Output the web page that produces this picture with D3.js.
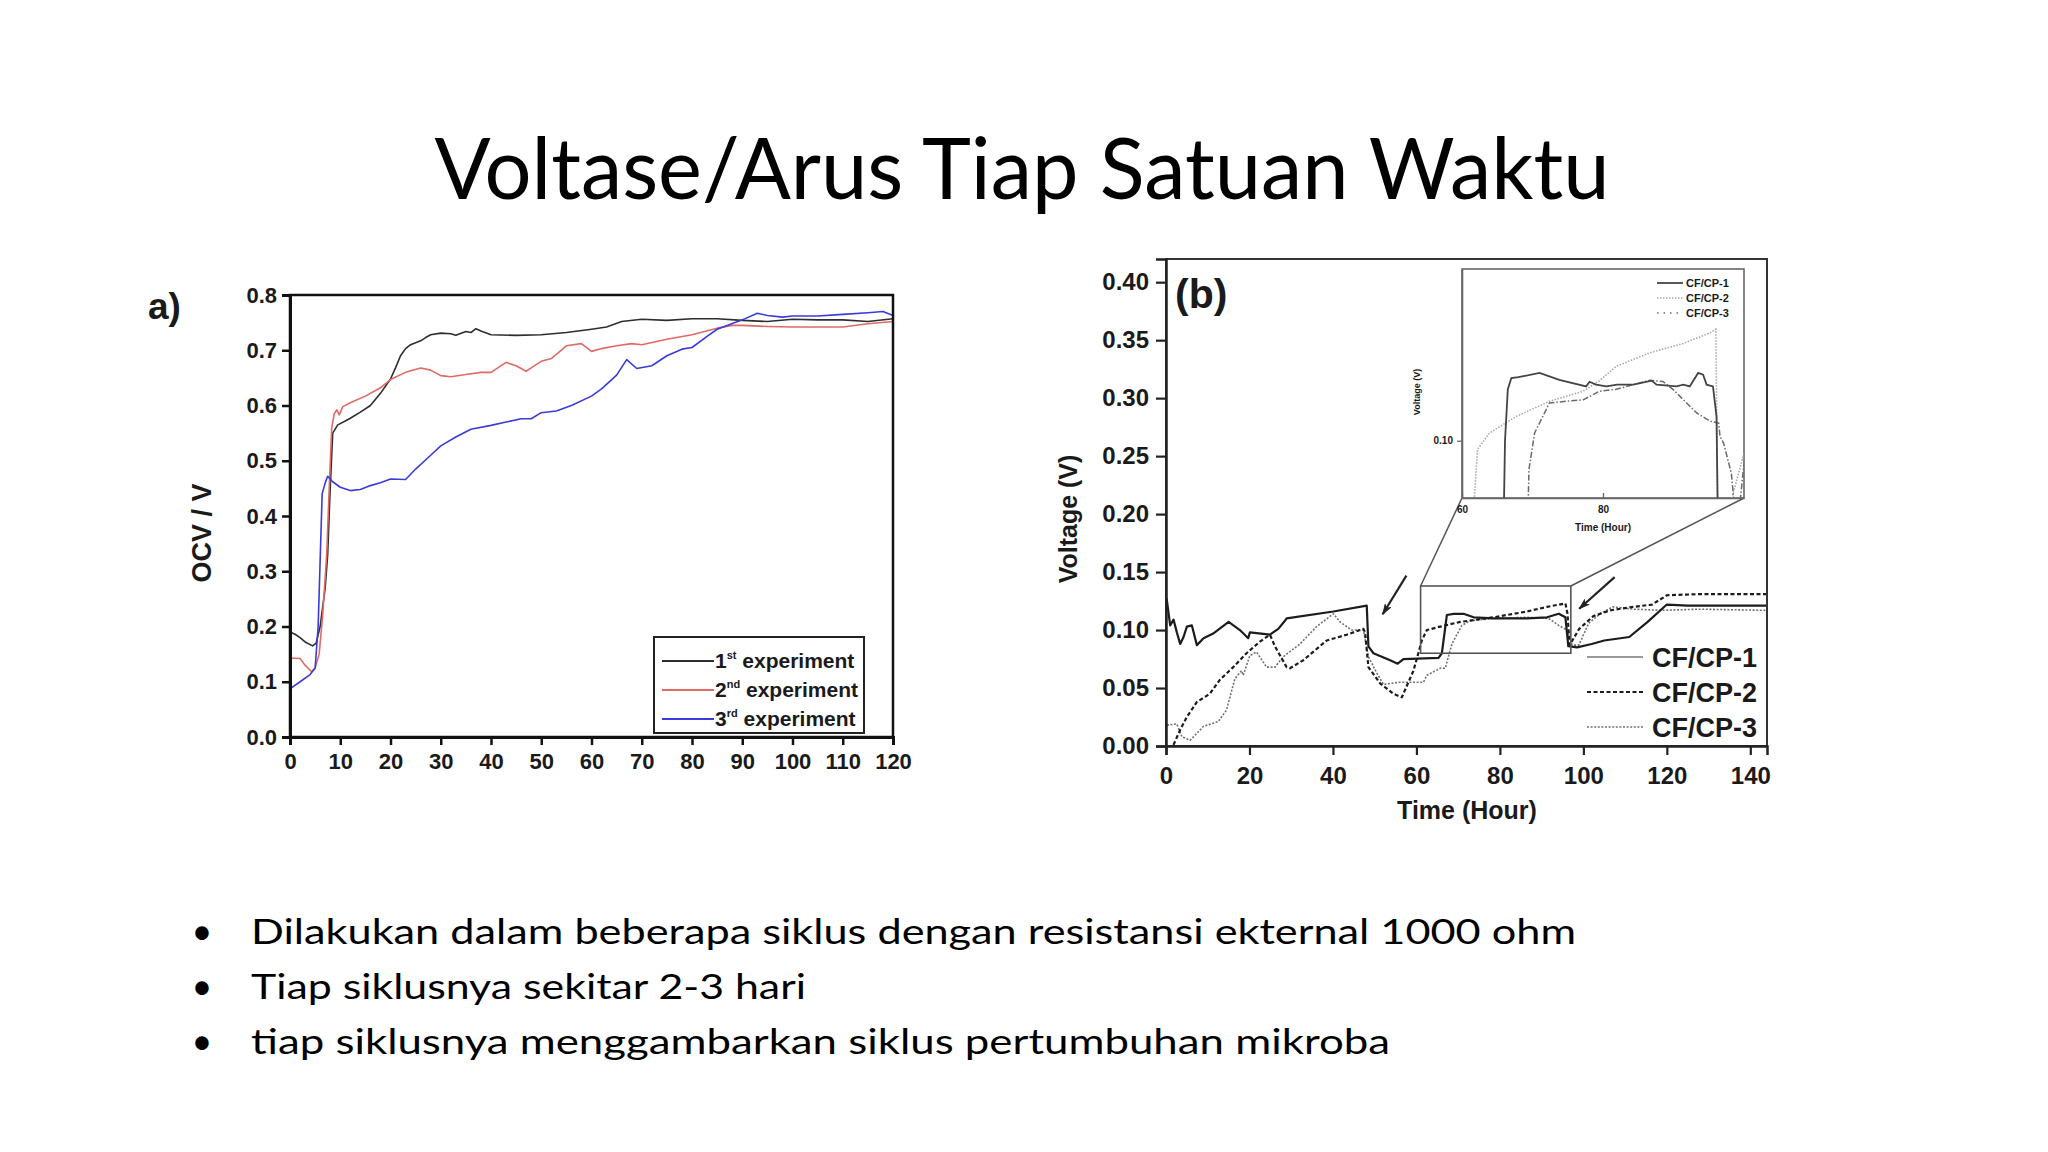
<!DOCTYPE html>
<html>
<head>
<meta charset="utf-8">
<script src="https://cdn.jsdelivr.net/npm/d3@7"></script>
<style>
  html, body { margin: 0; padding: 0; background: #ffffff; }
  svg { display: block; }
  .fig text { font-family: "Liberation Sans", Arial, sans-serif; font-weight: bold; fill: #1a1a1a; }
</style>
</head>
<body>
<svg id="chart" width="2048" height="1152"></svg>
<script>
// ---------------- DATA ----------------
const titleText = "Voltase/Arus Tiap Satuan Waktu";
const bullets = [
  "Dilakukan dalam beberapa siklus dengan resistansi ekternal 1000 ohm",
  "Tiap siklusnya sekitar 2-3 hari",
  "tiap siklusnya menggambarkan siklus pertumbuhan mikroba"
];

// Panel a) : time (h) vs OCV (V)
const xTicksA = [0,10,20,30,40,50,60,70,80,90,100,110,120];
const yTicksA = [0.0,0.1,0.2,0.3,0.4,0.5,0.6,0.7,0.8];
const legendA = [["1","st"," experiment"],["2","nd"," experiment"],["3","rd"," experiment"]];
const exp1 = [[0,0.19],[1,0.186],[2,0.18],[3,0.172],[4.5,0.165],[5.2,0.17],[6,0.2],[7,0.27],[7.5,0.33],[8,0.45],[8.5,0.55],[9.5,0.565],[11,0.572],[12,0.577],[14,0.588],[16,0.6],[18,0.622],[20,0.648],[21,0.668],[22,0.69],[23,0.703],[24,0.71],[26,0.717],[27,0.723],[28,0.728],[30,0.731],[32,0.73],[33,0.727],[35,0.734],[36,0.732],[37,0.739],[38,0.735],[40,0.728],[45,0.727],[50,0.728],[55,0.732],[60,0.738],[63,0.742],[66,0.752],[70,0.756],[75,0.754],[80,0.757],[85,0.757],[90,0.754],[95,0.752],[100,0.756],[105,0.755],[110,0.755],[115,0.752],[120,0.757]];
const exp2 = [[0,0.143],[2,0.142],[3,0.13],[4.3,0.118],[5,0.125],[5.8,0.15],[6.5,0.22],[7.3,0.33],[7.8,0.45],[8.3,0.56],[8.8,0.585],[9.3,0.592],[9.8,0.583],[10.5,0.598],[12,0.605],[15,0.617],[18,0.632],[20,0.647],[23,0.66],[26,0.668],[28,0.664],[30,0.654],[32,0.652],[35,0.656],[38,0.66],[40,0.66],[43,0.678],[45,0.672],[47,0.662],[48,0.668],[50,0.68],[52,0.685],[55,0.708],[58,0.712],[60,0.698],[62,0.703],[65,0.708],[68,0.712],[70,0.71],[75,0.72],[80,0.728],[85,0.74],[88,0.745],[90,0.745],[95,0.743],[100,0.742],[105,0.742],[110,0.742],[115,0.748],[120,0.752]];
const exp3 = [[0,0.087],[2,0.1],[4,0.113],[5,0.125],[5.6,0.2],[6,0.32],[6.4,0.44],[7,0.46],[7.5,0.472],[8.5,0.462],[10,0.452],[12,0.446],[14,0.448],[16,0.455],[18,0.46],[20,0.467],[23,0.466],[25,0.485],[28,0.51],[30,0.527],[33,0.543],[36,0.557],[40,0.564],[43,0.57],[46,0.576],[48,0.576],[50,0.587],[53,0.59],[56,0.6],[60,0.617],[62,0.63],[65,0.655],[67,0.683],[69,0.667],[72,0.672],[75,0.69],[78,0.702],[80,0.705],[83,0.725],[85,0.738],[87,0.745],[90,0.755],[93,0.767],[95,0.763],[98,0.76],[100,0.762],[105,0.762],[110,0.765],[115,0.768],[118,0.77],[120,0.763]];

// Panel (b) : time (hour) vs voltage (V)
const xTicksB = [0,20,40,60,80,100,120,140];
const yTicksB = [0.00,0.05,0.10,0.15,0.20,0.25,0.30,0.35,0.40];
const legendB = ["CF/CP-1","CF/CP-2","CF/CP-3"];
const cfcp1 = [[0,0.128],[0.2,0.126],[1,0.104],[1.8,0.109],[2.6,0.098],[3.4,0.088],[4.2,0.094],[5,0.103],[6.2,0.104],[7.4,0.087],[9,0.093],[11.3,0.097],[15,0.107],[17.7,0.1],[19.7,0.093],[20.1,0.098],[24.9,0.096],[26.9,0.101],[28.5,0.108],[28.9,0.11],[40.1,0.116],[48.1,0.121],[48.5,0.086],[49.7,0.08],[53.7,0.074],[55.5,0.071],[56.9,0.075],[65.3,0.076],[66.1,0.08],[67.3,0.113],[68.9,0.114],[71.3,0.114],[73.7,0.111],[78.5,0.11],[86.5,0.11],[91.3,0.111],[94.1,0.114],[95.7,0.111],[96.4,0.086],[98.5,0.085],[102,0.088],[105,0.091],[111,0.094],[115.4,0.107],[120,0.122],[125,0.121],[135,0.121],[144,0.121]];
const cfcp2 = [[1.8,0.001],[3.4,0.014],[5,0.025],[7.4,0.038],[10.5,0.045],[12.9,0.057],[16.1,0.068],[19.3,0.08],[22.5,0.09],[24.9,0.096],[26.1,0.086],[28.9,0.068],[29.7,0.067],[32.9,0.074],[38.5,0.091],[43.3,0.096],[47.3,0.101],[47.7,0.098],[48.5,0.068],[51.3,0.054],[54.5,0.045],[56.5,0.042],[59.3,0.065],[61.3,0.091],[62.5,0.1],[65.7,0.103],[70.5,0.107],[78.5,0.111],[86.5,0.116],[91.3,0.12],[95.7,0.123],[96.2,0.114],[96.7,0.087],[99,0.101],[102.4,0.112],[106.4,0.117],[112,0.12],[116.5,0.122],[120,0.13],[128,0.131],[144,0.131]];
const cfcp3 = [[0.2,0.018],[2.6,0.019],[3.8,0.008],[5.8,0.005],[9,0.017],[12.5,0.021],[14.5,0.031],[16.5,0.058],[18.1,0.065],[18.5,0.061],[20.1,0.078],[21.7,0.081],[24.1,0.068],[26.1,0.068],[28.1,0.077],[32.1,0.088],[36.1,0.103],[40.1,0.114],[41.7,0.107],[44.5,0.1],[47.3,0.1],[48.5,0.077],[50.5,0.063],[52.1,0.053],[53.7,0.054],[56.1,0.055],[61.7,0.055],[62.5,0.061],[65.7,0.067],[66.9,0.067],[68.5,0.088],[70.9,0.104],[72.9,0.108],[78.5,0.11],[86.5,0.111],[91.7,0.11],[94.1,0.104],[96.1,0.1],[97.3,0.087],[98.9,0.087],[101.3,0.106],[104,0.114],[107,0.12],[112,0.118],[118.8,0.117],[127.8,0.118],[144,0.117]];

// Zoom window in panel (b) and annotation arrows (data units)
const zoomBox = [[61,0.08],[97,0.138]];
const arrows = [[[57.6,0.147],[51.9,0.1136]],[[107.5,0.1456],[99,0.1184]]];

// Inset
const xTicksI = [60,80];
const yTicksI = [0.10];
const inset1 = [[65.9,0.07],[66.1,0.1],[66.5,0.118],[67,0.1219],[68,0.1222],[71,0.1237],[73.8,0.1213],[77.6,0.119],[78.1,0.1206],[79,0.1196],[80.5,0.119],[82,0.1196],[84.3,0.1196],[86.9,0.121],[87.6,0.1196],[90.4,0.119],[91.4,0.1196],[92.3,0.119],[93.5,0.1237],[94.2,0.1231],[94.7,0.1196],[95.6,0.119],[96.1,0.1085],[96.3,0.07]];
const inset2 = [[61.5,0.07],[62.2,0.097],[63.9,0.1027],[67.7,0.1085],[72.4,0.1138],[77.2,0.1173],[79.5,0.121],[81.9,0.126],[86.6,0.1307],[91.4,0.134],[95.2,0.1377],[96,0.139],[96.3,0.07],[97.2,0.07],[100,0.0957]];
const inset3 = [[69.3,0.07],[69.5,0.09],[70.3,0.1027],[72.4,0.1132],[74.8,0.1138],[77.2,0.1143],[79.5,0.1173],[81.9,0.118],[84.3,0.1196],[86.6,0.1211],[88.5,0.1207],[90,0.1178],[91.4,0.1143],[93.3,0.1097],[95.2,0.1068],[96.4,0.1062],[96.6,0.1015],[97.1,0.0992],[98.2,0.0887],[98.9,0.07],[99.1,0.07],[100,0.0922]];

// ---------------- DRAW ----------------
const svg = d3.select("#chart");
svg.append("rect").attr("width",2048).attr("height",1152).attr("fill","#ffffff");

// Title
svg.append("text").attr("x",1022).attr("y",199).attr("text-anchor","middle")
  .attr("font-family","Lato, 'Open Sans', sans-serif").attr("font-size",85)
  .attr("textLength",1175).attr("lengthAdjust","spacingAndGlyphs")
  .attr("fill","#000").text(titleText);

// Bullets
const bulletWidths = [1325,555,1139];
bullets.forEach((b,i)=>{
  const y = 944 + i*55;
  svg.append("text").attr("x",202).attr("y",y).attr("text-anchor","middle")
    .attr("font-family","Lato, 'Open Sans', sans-serif").attr("font-size",36).attr("fill","#000").text("\u2022");
  svg.append("text").attr("x",251).attr("y",y)
    .attr("font-family","Lato, 'Open Sans', sans-serif").attr("font-size",35)
    .attr("textLength",bulletWidths[i]).attr("lengthAdjust","spacingAndGlyphs")
    .attr("fill","#000").text(b);
});

// ---------- Panel a ----------
const gA = svg.append("g").attr("class","fig");
const xA = d3.scaleLinear().domain([0,120]).range([290,893]);
const yA = d3.scaleLinear().domain([0,0.8]).range([737,295]);

const lineA = d3.line().x(d=>xA(d[0])).y(d=>yA(d[1]));
const seriesA = [[exp1,"#2e2e2e"],[exp2,"#e06a66"],[exp3,"#3b3bdc"]];
seriesA.forEach(([d,c])=>{
  gA.append("path").datum(d).attr("d",lineA).attr("fill","none").attr("stroke",c).attr("stroke-width",1.6).attr("stroke-linejoin","round");
});

gA.append("rect").attr("x",xA(0)).attr("y",yA(0.8)).attr("width",xA(120)-xA(0)).attr("height",yA(0)-yA(0.8))
  .attr("fill","none").attr("stroke","#111").attr("stroke-width",2.5);

const axA_x = gA.append("g").attr("transform",`translate(0,${yA(0)})`)
  .call(d3.axisBottom(xA).tickValues(xTicksA).tickSize(8).tickPadding(8).tickFormat(d3.format("d")));
const axA_y = gA.append("g").attr("transform",`translate(${xA(0)},0)`)
  .call(d3.axisLeft(yA).tickValues(yTicksA).tickSize(8).tickPadding(5).tickFormat(d3.format(".1f")));
[axA_x,axA_y].forEach(a=>{
  a.select(".domain").attr("stroke","#111").attr("stroke-width",3);
  a.selectAll(".tick line").attr("stroke","#111").attr("stroke-width",2.5);
  a.selectAll(".tick text").attr("font-size",22).attr("fill","#222");
});

gA.append("text").attr("transform",`translate(211,533) rotate(-90)`).attr("text-anchor","middle")
  .attr("font-size",27).text("OCV / V");
gA.append("text").attr("x",148).attr("y",319).attr("font-size",37).text("a)");

// legend a
gA.append("rect").attr("x",654).attr("y",637).attr("width",210).attr("height",96)
  .attr("fill","#fff").attr("stroke","#222").attr("stroke-width",2);
legendA.forEach((l,i)=>{
  const y = 661 + i*29;
  gA.append("line").attr("x1",662).attr("x2",714).attr("y1",y).attr("y2",y).attr("stroke",seriesA[i][1]).attr("stroke-width",1.8);
  const t = gA.append("text").attr("x",715).attr("y",y+7).attr("font-size",21);
  t.append("tspan").text(l[0]);
  t.append("tspan").attr("font-size",11).attr("dy",-9).text(l[1]);
  t.append("tspan").attr("dy",9).text(l[2]);
});

// ---------- Panel b ----------
const gB = svg.append("g").attr("class","fig");
const xB = d3.scaleLinear().domain([0,144]).range([1166,1767]);
const yB = d3.scaleLinear().domain([0,0.42]).range([746,259]);
const lineB = d3.line().x(d=>xB(d[0])).y(d=>yB(d[1]));

const stylesB = [
  {c:"#1c1c1c", w:2.2, dash:null},
  {c:"#1c1c1c", w:2.2, dash:"4,2.5"},
  {c:"#707070", w:1.6, dash:"2,1.6"}
];
[cfcp3,cfcp2,cfcp1].forEach((d,k)=>{
  const s = stylesB[2-k];
  gB.append("path").datum(d).attr("d",lineB).attr("fill","none").attr("stroke",s.c)
    .attr("stroke-width",s.w).attr("stroke-dasharray",s.dash).attr("stroke-linejoin","round");
});

gB.append("rect").attr("x",xB(0)).attr("y",yB(0.42)).attr("width",xB(144)-xB(0)).attr("height",yB(0)-yB(0.42))
  .attr("fill","none").attr("stroke","#333").attr("stroke-width",2);

const axB_x = gB.append("g").attr("transform",`translate(0,${yB(0)})`)
  .call(d3.axisBottom(xB).tickValues(xTicksB).tickSize(9).tickPadding(12).tickFormat(d3.format("d")));
const axB_y = gB.append("g").attr("transform",`translate(${xB(0)},0)`)
  .call(d3.axisLeft(yB).tickValues(yTicksB).tickSize(10).tickPadding(7).tickFormat(d3.format(".2f")));
[axB_x,axB_y].forEach(a=>{
  a.select(".domain").attr("stroke","#222").attr("stroke-width",2.5);
  a.selectAll(".tick line").attr("stroke","#222").attr("stroke-width",2.2);
  a.selectAll(".tick text").attr("font-size",24).attr("fill","#222");
});

gB.append("text").attr("x",1467).attr("y",819).attr("text-anchor","middle").attr("font-size",25).text("Time (Hour)");
gB.append("text").attr("transform",`translate(1077,519) rotate(-90)`).attr("text-anchor","middle").attr("font-size",25).text("Voltage (V)");
gB.append("text").attr("x",1175).attr("y",308).attr("font-size",41).text("(b)");

// legend b
legendB.forEach((l,i)=>{
  const y = 657 + i*35;
  const s = stylesB[i];
  gB.append("line").attr("x1",1587).attr("x2",1643).attr("y1",y).attr("y2",y)
    .attr("stroke",i===0?"#777":s.c).attr("stroke-width",i===0?1.4:s.w).attr("stroke-dasharray",s.dash);
  gB.append("text").attr("x",1652).attr("y",y+10).attr("font-size",27).text(l);
});

// zoom box
const zx0 = xB(zoomBox[0][0]), zx1 = xB(zoomBox[1][0]);
const zy0 = yB(zoomBox[1][1]), zy1 = yB(zoomBox[0][1]);
gB.append("rect").attr("x",zx0).attr("y",zy0).attr("width",zx1-zx0).attr("height",zy1-zy0)
  .attr("fill","none").attr("stroke","#555").attr("stroke-width",1.6);

// arrows
const defs = svg.append("defs");
defs.append("marker").attr("id","ah").attr("viewBox","0 0 12 8").attr("refX",11).attr("refY",4)
  .attr("markerWidth",12).attr("markerHeight",8).attr("markerUnits","userSpaceOnUse").attr("orient","auto")
  .append("path").attr("d","M0,0 L12,4 L0,8 L3,4 Z").attr("fill","#222");
arrows.forEach(a=>{
  gB.append("line").attr("x1",xB(a[0][0])).attr("y1",yB(a[0][1])).attr("x2",xB(a[1][0])).attr("y2",yB(a[1][1]))
    .attr("stroke","#222").attr("stroke-width",2.2).attr("marker-end","url(#ah)");
});

// ---------- Inset ----------
const xI = d3.scaleLinear().domain([60,100]).range([1462,1744]);
const yI = d3.scaleLinear().domain([0.08,0.16]).range([498,269]);
const gI = svg.append("g").attr("class","fig");

// connector lines
gI.append("line").attr("x1",zx0).attr("y1",zy0).attr("x2",xI(60)).attr("y2",yI(0.08)).attr("stroke","#555").attr("stroke-width",1.5);
gI.append("line").attr("x1",zx1).attr("y1",zy0).attr("x2",xI(100)).attr("y2",yI(0.08)).attr("stroke","#555").attr("stroke-width",1.5);

gI.append("rect").attr("x",xI(60)).attr("y",yI(0.16)).attr("width",xI(100)-xI(60)).attr("height",yI(0.08)-yI(0.16))
  .attr("fill","#fff").attr("stroke","#666").attr("stroke-width",1.6);

defs.append("clipPath").attr("id","insetClip").append("rect")
  .attr("x",xI(60)).attr("y",yI(0.16)).attr("width",xI(100)-xI(60)).attr("height",yI(0.08)-yI(0.16));
const lineI = d3.line().x(d=>xI(d[0])).y(d=>yI(d[1]));
const stylesI = [
  {c:"#444", w:1.8, dash:null},
  {c:"#a8a8a8", w:1.6, dash:"1.5,1.5"},
  {c:"#6a6a6a", w:1.5, dash:"6,2,1.5,2"}
];
const gIc = gI.append("g").attr("clip-path","url(#insetClip)");
[inset2,inset3,inset1].forEach((d,k)=>{
  const s = stylesI[[1,2,0][k]];
  gIc.append("path").datum(d).attr("d",lineI).attr("fill","none").attr("stroke",s.c)
    .attr("stroke-width",s.w).attr("stroke-dasharray",s.dash);
});

const axI_x = gI.append("g").attr("transform",`translate(0,${yI(0.08)})`)
  .call(d3.axisBottom(xI).tickValues(xTicksI).tickSizeInner(-5).tickSizeOuter(0).tickPadding(8).tickFormat(d3.format("d")));
const axI_y = gI.append("g").attr("transform",`translate(${xI(60)},0)`)
  .call(d3.axisLeft(yI).tickValues(yTicksI).tickSizeInner(5).tickSizeOuter(0).tickPadding(4).tickFormat(d3.format(".2f")));
[axI_x,axI_y].forEach(a=>{
  a.select(".domain").attr("stroke","#666").attr("stroke-width",1.6);
  a.selectAll(".tick line").attr("stroke","#666").attr("stroke-width",1.3);
  a.selectAll(".tick text").attr("font-size",10).attr("fill","#555");
});
gI.append("text").attr("x",xI(80)).attr("y",531).attr("text-anchor","middle").attr("font-size",10).attr("fill","#555").text("Time (Hour)");
gI.append("text").attr("transform",`translate(1420,392) rotate(-90)`).attr("text-anchor","middle").attr("font-size",9).attr("fill","#555").text("Voltage (V)");

legendB.forEach((l,i)=>{
  const y = 283 + i*15;
  const s = stylesI[i];
  gI.append("line").attr("x1",1657).attr("x2",1683).attr("y1",y).attr("y2",y)
    .attr("stroke",s.c).attr("stroke-width",s.w).attr("stroke-dasharray",i===2?"1.5,5":s.dash);
  gI.append("text").attr("x",1686).attr("y",y+4).attr("font-size",11).attr("fill","#555").text(l);
});
</script>
</body>
</html>
